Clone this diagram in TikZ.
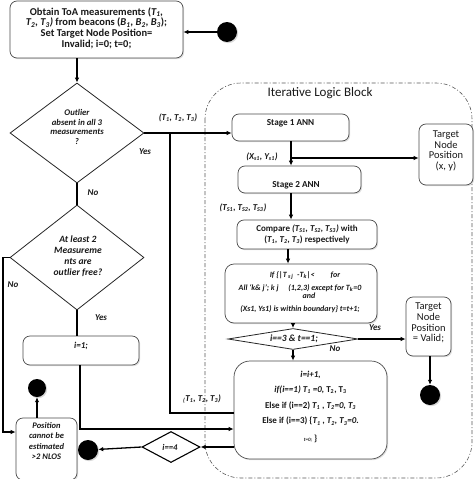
\documentclass[tikz,border=0pt]{standalone}
\usepackage{fontspec}
\setmainfont{Carlito}
\usetikzlibrary{shapes.geometric,arrows.meta,shadows}
\newcommand{\sbs}[2]{#1\textsubscript{#2}}
\begin{document}
\begin{tikzpicture}[x=1pt,y=-1pt,
  box/.style={draw=black!70, line width=0.7pt, rounded corners=7pt, fill=white,
    drop shadow={opacity=0.25, shadow xshift=1.2pt, shadow yshift=-1.2pt}},
  dia/.style={diamond, draw=black!85, line width=0.8pt, inner sep=0pt, fill=white},
  blob/.style={circle, fill=black, inner sep=0pt, minimum size=20pt,
    drop shadow={opacity=0.3, shadow xshift=1.2pt, shadow yshift=-1.2pt}},
  conn/.style={line width=1.3pt, draw=black},
  arr/.style={conn, -{Latex[length=5pt,width=4.5pt]}},
  region/.style={draw=black!65, line width=0.6pt, dash pattern=on 4pt off 2pt on 1pt off 2pt, rounded corners=36pt},
  txt/.style={font=\bfseries\fontsize{10.5}{10.6}\selectfont, align=center, text=black!90, inner sep=0pt},
  itx/.style={font=\bfseries\itshape\fontsize{8.7}{9.6}\selectfont, align=center, text=black!90, inner sep=0pt},
  lbl/.style={font=\bfseries\itshape\fontsize{9}{10}\selectfont, text=black!90, inner sep=0pt},
  plain/.style={font=\fontsize{10.5}{10.6}\selectfont, align=center, text=black!90, inner sep=0pt}
]
\useasboundingbox (0,0) rectangle (474,479);
\fill[white] (0,0) rectangle (474,479);

% iterative region
\draw[region] (205,83) rectangle (472,478);
\node[plain, font=\fontsize{13}{14}\selectfont] (ttl) at (320,93) {Iterative Logic Block};

% left column
\node[box, minimum width=173pt, minimum height=57pt] (start) at (96.5,29.5) {};
\node[txt] (starttxt) at (96.5,28) {Obtain ToA measurements (\textit{\sbs{T}{1},}\\\textit{\sbs{T}{2}, \sbs{T}{3})} from beacons (\textit{\sbs{B}{1}, \sbs{B}{2}, \sbs{B}{3}});\\Set Target Node Position=\\Invalid; i=0; t=0;};
\node[blob] (dot1) at (227,32) {};

\node[dia, minimum width=134pt, minimum height=100pt] (d1) at (77,133) {};
\node[itx] (d1txt) at (77,127) {Outlier\\absent in all 3\\measurements\\?};

\node[dia, minimum width=134pt, minimum height=105pt] (d2) at (77,257.5) {};
\node[itx, font=\bfseries\itshape\fontsize{9.6}{10.8}\selectfont] (d2txt) at (78,256) {At least 2\\Measureme\\nts are\\outlier free?};

\node[box, minimum width=116pt, minimum height=29pt] (ione) at (81,350.5) {};
\node[itx, font=\bfseries\itshape\fontsize{9}{10}\selectfont] (ionetxt) at (81,346) {i=1;};

\node[box, minimum width=61pt, minimum height=62pt] (pos) at (46.5,449) {};
\node[itx, font=\bfseries\itshape\fontsize{8.5}{10.4}\selectfont] (postxt) at (46.5,441) {Position\\cannot be\\estimated\\>2 NLOS};
\node[blob, minimum size=18pt] (dot2) at (37,388) {};
\node[blob] (dot3) at (88,450) {};

\node[dia, minimum width=58pt, minimum height=31pt, line width=1.1pt, draw=black] (d4) at (171,447) {};
\node[itx] (d4txt) at (170,447) {i==4};

% right column
\node[box, minimum width=117pt, minimum height=27pt] (s1) at (290.5,127.5) {};
\node[txt, font=\bfseries\fontsize{9.2}{10}\selectfont] (s1txt) at (290.5,123) {Stage 1 ANN};

\node[box, minimum width=54pt, minimum height=61pt] (tg1) at (446,154.5) {};
\node[plain] (tg1txt) at (446,151) {Target\\Node\\Position\\(x, y)};

\node[box, minimum width=123pt, minimum height=27pt] (s2) at (299.5,179.5) {};
\node[txt, font=\bfseries\fontsize{9.2}{10}\selectfont] (s2txt) at (296,185) {Stage 2 ANN};

\node[box, minimum width=140pt, minimum height=29pt] (cmp) at (307,234.5) {};
\node[txt, font=\bfseries\fontsize{9}{10.8}\selectfont] (cmptxt) at (307,234.5) {Compare \textit{(\sbs{T}{S1}, \sbs{T}{S2}, \sbs{T}{S3})} with\\(\textit{\sbs{T}{1}, \sbs{T}{2}, \sbs{T}{3}}) respectively};

\node[box, minimum width=152pt, minimum height=59pt, rounded corners=9pt] (ifb) at (301,293.5) {};
\node[itx, font=\bfseries\itshape\fontsize{8}{8.4}\selectfont] (ifbtxt) at (300,292) {\hspace*{10pt}If \{|T\,\textsubscript{s\,j}\ \ -T\textsubscript{k}|<\qquad for\\[4.5pt]All `k\& j'; k j\quad\ (1,2,3) except for T\textsubscript{k}=0\\\hspace*{18pt}and\\[4.5pt](Xs1, Ys1) is within boundary\} t=t+1;};

\node[dia, minimum width=130pt, minimum height=21pt] (d3) at (293,339) {};
\node[itx, font=\bfseries\itshape\fontsize{9.5}{10}\selectfont] (d3txt) at (294,339) {i==3 \& t==1;};

\node[box, minimum width=45pt, minimum height=59pt] (tg2) at (428.5,326.5) {};
\node[plain] (tg2txt) at (428.5,323) {Target\\Node\\Position\\= Valid;};
\node[blob] (dot4) at (430,395) {};

\node[box, minimum width=153pt, minimum height=98pt, rounded corners=16pt] (last) at (310.5,410) {};
\node[txt, font=\bfseries\fontsize{9}{15.5}\selectfont] (lasttxt) at (310.5,407) {\textit{i=i+1,}\\\textit{if(i==1) \sbs{T}{1} =0,} \sbs{T}{2}, \sbs{T}{3}\\Else if (i==2) \textit{\sbs{T}{1} , \sbs{T}{2}=0, \sbs{T}{3}}\\Else if (i==3) \{\textit{\sbs{T}{1} , \sbs{T}{2}, \sbs{T}{3}=0}.\\[2pt]{\fontsize{5}{6}\selectfont\itshape t=0;} \}};

% labels
\node[lbl] (lt1) at (178,118) {(\sbs{T}{1}, \sbs{T}{2}, \sbs{T}{3})};
\node[lbl] (lyes1) at (145,152) {Yes};
\node[lbl] (lno1) at (93,193) {No};
\node[lbl] (lno2) at (13,285) {No};
\node[lbl] (lyes2) at (101,318) {Yes};
\node[lbl] (lt2) at (202,399) {\textsubscript{(}\sbs{T}{1}, \sbs{T}{2}, \sbs{T}{3})};
\node[lbl] (lxs) at (262,157) {(\sbs{X}{s1}, \sbs{Y}{s1})};
\node[lbl] (lts) at (243,208) {(\sbs{T}{S1}, \sbs{T}{S2}, \sbs{T}{S3})};
\node[lbl] (lyes3) at (375,328) {Yes};
\node[lbl] (lno3) at (335,349) {No};

% connectors
\draw[arr] (dot1) -- (dot1 -| start.east);
\draw[arr] (start.south -| d1.north) -- (d1.north);
\draw[conn] (d1.south) -- (d2.north);
\draw[arr] (d1.east) -- (s1.west |- d1.east);
\coordinate (br1) at (170,133);
\coordinate (br2) at (170,413);
\draw[conn] (br1) -- (br2) -- (br2 -| last.west);
\draw[conn] (d2.south) -- (d2.south |- ione.north);
\coordinate (c1) at (3,257.5);
\coordinate (c2) at (3,432);
\draw[arr] (d2.west) -- (c1) -- (c2) -- (c2 -| pos.west);
\draw[arr] (pos.north -| dot2) -- (dot2);
\coordinate (c3) at (80,429);
\draw[arr] (ione.south -| c3) -- (c3) -- (c3 -| last.west);
\draw[arr] (last.west |- d4.east) -- (d4.east);
\draw[arr] (d4.west) -- (dot3);
\coordinate (c4) at (291,158);
\draw[arr] (c4 |- s1.south) -- (c4 |- s2.north);
\draw[arr] (c4) -- (c4 -| tg1.west);
\draw[arr] (c4 |- s2.south) -- (c4 |- cmp.north);
\coordinate (c5) at (288,0);
\draw[arr] (c5 |- cmp.south) -- (c5 |- ifb.north);
\coordinate (c6) at (293,0);
\draw[arr] (c6 |- ifb.south) -- (d3.north);
\draw[arr] (d3.east) -- (tg2.west |- d3.east);
\draw[arr] (d3.south) -- (d3.south |- last.north);
\draw[arr] (tg2.south -| dot4) -- (dot4);
\end{tikzpicture}
\end{document}
